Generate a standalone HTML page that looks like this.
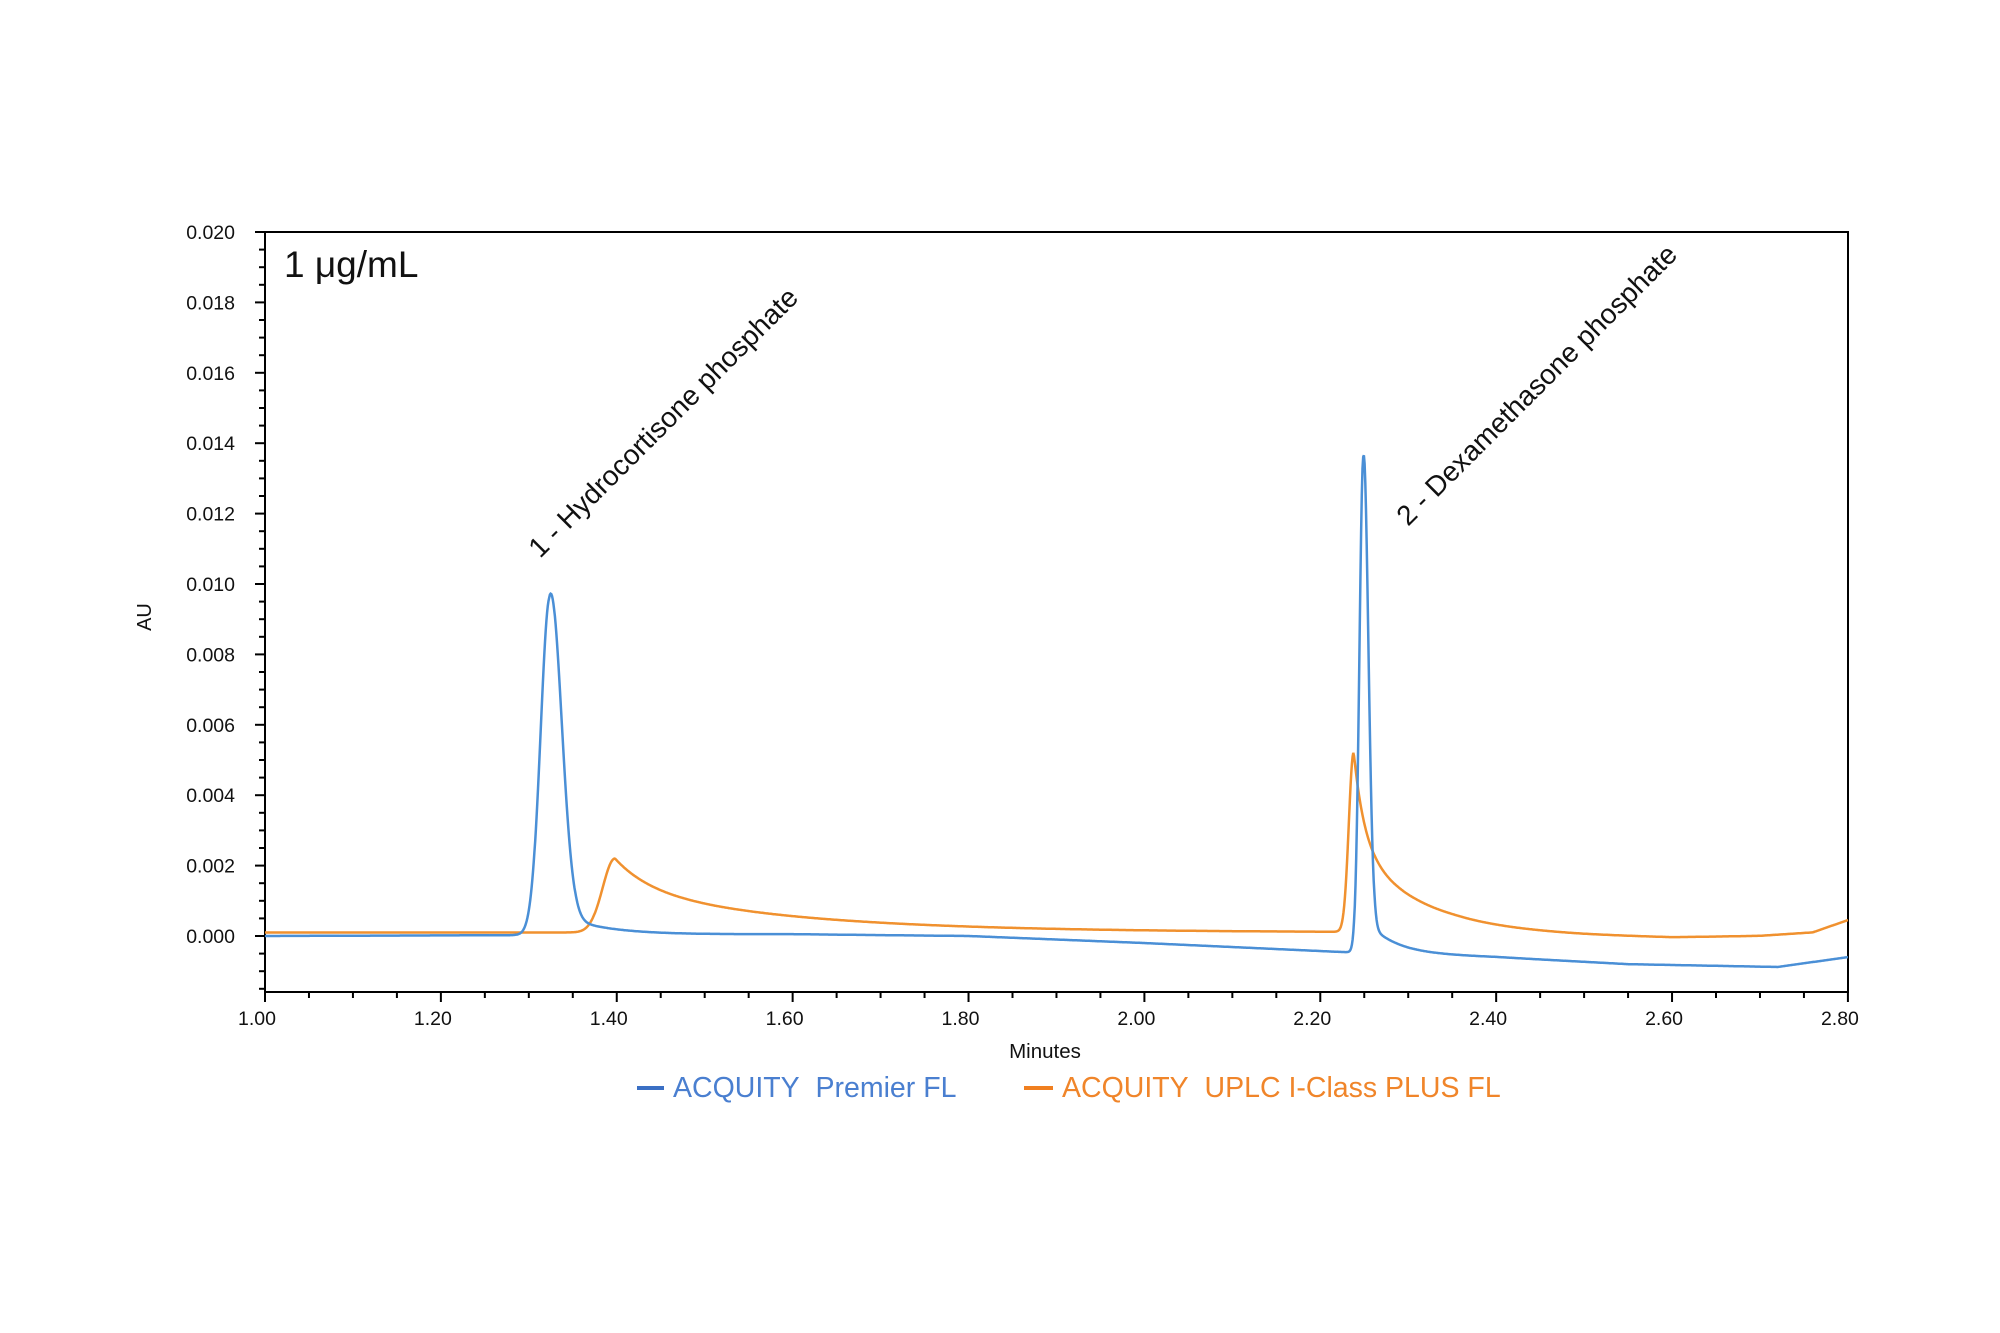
<!DOCTYPE html>
<html><head><meta charset="utf-8"><style>
body{margin:0;background:#fff;}
svg{display:block;font-family:"Liberation Sans",Arial,sans-serif;}
</style></head><body>
<svg id="s" width="2000" height="1333" xmlns="http://www.w3.org/2000/svg">
<rect width="2000" height="1333" fill="#fff"/>
<g id="axes" stroke="#000" stroke-width="2" fill="none">
<rect x="265" y="232" width="1583" height="760"/>
</g>
<g id="ticks" stroke="#000" stroke-width="2"></g>
<g id="labels" font-size="19.5" fill="#111"></g>
<text x="284" y="277" font-size="37" fill="#111">1 μg/mL</text>
<text x="151" y="617" font-size="20" fill="#111" transform="rotate(-90 151 617)" text-anchor="middle">AU</text>
<text x="1045" y="1058" font-size="20.5" fill="#111" text-anchor="middle">Minutes</text>
<text x="540" y="559" font-size="28" fill="#111" transform="rotate(-45 540 559)">1 - Hydrocortisone phosphate</text>
<text x="1408" y="527" font-size="28" fill="#111" transform="rotate(-45 1408 527)">2 - Dexamethasone phosphate</text>
<path id="orange" fill="none" stroke="#f0912f" stroke-width="2.5"/>
<path id="blue" fill="none" stroke="#4a8fd6" stroke-width="2.5"/>
<line x1="637" y1="1088" x2="664" y2="1088" stroke="#3a6fc4" stroke-width="4"/>
<text x="673" y="1097" font-size="28.5" fill="#4a7fd0">ACQUITY&#160; Premier FL</text>
<line x1="1024" y1="1088" x2="1053" y2="1088" stroke="#f07f20" stroke-width="4"/>
<text x="1062" y="1097" font-size="28.5" fill="#f0852a">ACQUITY&#160; UPLC I-Class PLUS FL</text>
</svg>
<script>
var X=function(t){return 265+(t-1)*879.4;},Y=function(v){return 936-v*35200;};
var NS="http://www.w3.org/2000/svg";
var tk=document.getElementById("ticks"),lb=document.getElementById("labels");
function add(p,tag,a,txt){var e=document.createElementNS(NS,tag);for(var k in a)e.setAttribute(k,a[k]);if(txt)e.textContent=txt;p.appendChild(e);}
for(var v=-0.0015;v<=0.02001;v+=0.0005){var y=Y(v);var major=Math.abs(Math.round(v*1000)/1000-v)<1e-7&&Math.round(v*1000)%2==0;
add(tk,"line",{x1:265-(major?10:6),x2:265,y1:y,y2:y});
if(major)add(lb,"text",{x:235,y:y+7,"text-anchor":"end"},v.toFixed(3));}
for(var i=0;i<=36;i++){var t=1+i*0.05;var x=X(t);var major=i%4==0;
add(tk,"line",{x1:x,x2:x,y1:992,y2:992+(major?10:6)});
if(major)add(lb,"text",{x:x-8,y:1025,"text-anchor":"middle"},t.toFixed(2));}
function interp(pts,t){if(t<=pts[0][0])return pts[0][1];for(var i=1;i<pts.length;i++){if(t<=pts[i][0]){var a=pts[i-1],b=pts[i];return a[1]+(b[1]-a[1])*(t-a[0])/(b[0]-a[0]);}}return pts[pts.length-1][1];}
function ag(t,c,a,sl,sr){var s=t<c?sl:sr;return a*Math.exp(-0.5*Math.pow((t-c)/s,2));}
var bb=[[1,0],[1.6,0.00005],[1.8,0],[2.0,-0.0002],[2.22,-0.00045],[2.28,-0.0005],[2.4,-0.0006],[2.55,-0.0008],[2.72,-0.00088],[2.8,-0.0006]];
var ob=[[1,0.0001],[1.8,0.0001],[2.22,0.0001],[2.35,0.0001],[2.5,0],[2.6,-0.00005],[2.7,0],[2.76,0.0001],[2.8,0.00045]];
function blue(t){var v=interp(bb,t)+ag(t,1.324,0.0096,0.0105,0.013);
if(t>1.323)v+=0.0006*Math.exp(-(t-1.333)/0.05)*(1-Math.exp(-(t-1.323)/0.01));
v+=ag(t,2.249,0.0141,0.0045,0.0055);
if(t>2.249)v+=0.0008*Math.exp(-(t-2.257)/0.03)*(1-Math.exp(-(t-2.249)/0.005));
return v;}
function orange(t){var v=interp(ob,t);
var c1=1.398;if(t<c1)v+=ag(t,c1,0.0021,0.014,1);else{var d=t-c1;v+=0.0021*(0.4*Math.exp(-d/0.04)+0.6*Math.exp(-d/0.2));}
var c2=2.238;if(t<c2)v+=ag(t,c2,0.0051,0.0055,1);else{var d=t-c2;v+=0.0051*(0.5*Math.exp(-d/0.012)+0.5*Math.exp(-d/0.07));}
return v;}
function path(f){var s="";for(var t=1;t<=2.8;t+=0.0008){s+=(s?"L":"M")+X(t).toFixed(1)+","+Y(f(t)).toFixed(1);}return s;}
document.getElementById("blue").setAttribute("d",path(blue));
document.getElementById("orange").setAttribute("d",path(orange));
</script>
</body></html>
